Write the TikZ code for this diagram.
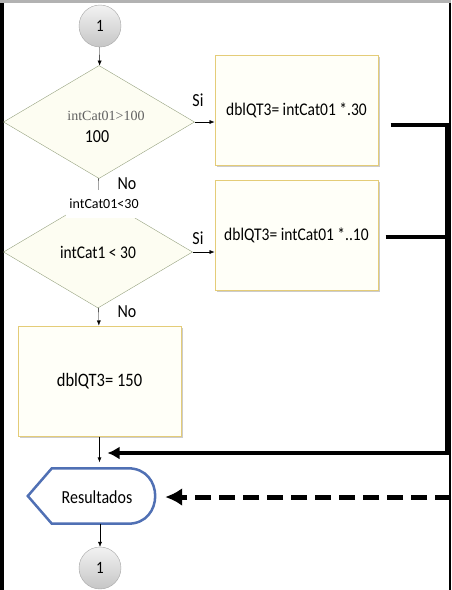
\documentclass[tikz,border=0pt]{standalone}
\usepackage{fontspec}
\setmainfont{Carlito}
\newfontfamily\tnr{Liberation Serif}
\usetikzlibrary{shapes.geometric,arrows.meta,shadows,positioning}
\definecolor{decborder}{RGB}{150,162,128}
\definecolor{decfill}{RGB}{253,253,242}
\definecolor{procborder}{RGB}{228,204,120}
\definecolor{procfill}{RGB}{255,255,248}
\definecolor{dispborder}{RGB}{80,112,180}
\newcommand{\tall}[1]{\scalebox{1}[1.15]{#1}}

\begin{document}
\begin{tikzpicture}[x=1pt,y=-1pt]
    \tikzstyle{conn}=[circle, minimum size=42pt, inner sep=0pt, draw=gray!70, top color=gray!10, bottom color=gray!45, font=\fontsize{15}{18}\selectfont]
    \tikzstyle{cond}=[diamond, draw=decborder, fill=decfill, inner sep=0pt, minimum width=191pt, minimum height=113pt, font=\fontsize{15.5}{18}\selectfont]
    \tikzstyle{proc}=[rectangle, draw=procborder, fill=procfill, line width=1pt, minimum width=163pt, minimum height=110pt, drop shadow={shadow xshift=2pt, shadow yshift=-2pt, opacity=0.4, fill=gray}, font=\fontsize{15.5}{18}\selectfont]
    \tikzstyle{lbl}=[font=\fontsize{16}{18}\selectfont]
    \tikzstyle{flow}=[-{Latex[length=5pt,width=4pt]}]
    \tikzstyle{bus}=[line width=4pt, line join=miter]
    \useasboundingbox (0,0) rectangle (451,590);
    % frame
    \fill[black] (0,0) rectangle (4,590);
    \fill[black] (449,0) rectangle (451,590);
    \fill[gray!60] (0,0) rectangle (451,3);
    % nodes
    \node[conn] (top) at (100,26) {\tall{1}};
    \node[cond] (c1) at (99,122) {};
    \node[font=\tnr\fontsize{14}{16}\selectfont, text=gray!75!black] (c1a) at (106,116) {intCat01>100};
    \node[font=\fontsize{16}{18}\selectfont] (c1b) at (97,137) {\tall{100}};
    \node[proc] (p1) at (296.5,110) {\tall{dblQT3= intCat01 *.30}};
    \node[cond, minimum width=189pt, minimum height=112pt] (c2) at (98,252) {\tall{intCat1 < 30}};
    \node[proc] (p2) at (296.5,235) {\tall{dblQT3= intCat01 *..10}};
    \node[proc, font=\fontsize{16.5}{18}\selectfont] (p3) at (99.5,381) {\tall{dblQT3= 150}};
    \node[minimum width=127pt, minimum height=55pt, inner sep=0pt] (res) at (91.5,496) {};
    \node[conn] (bot) at (100,568) {\tall{1}};
    \coordinate (merge) at (447,453);
    \coordinate (offpage) at (451,497);
    % Resultados
    \draw[dispborder, line width=2.5pt, fill=white]
        ([xshift=24pt]res.north west) -- (res.west) -- ([xshift=24pt]res.south west)
        -- ([xshift=-27pt]res.south east)
        .. controls ([xshift=9pt]res.south east) and ([xshift=9pt]res.north east) .. ([xshift=-27pt]res.north east)
        -- cycle;
    \node[font=\fontsize{16}{18}\selectfont] (restxt) at (97,497) {\tall{Resultados}};
    % connectors
    \draw[flow] (top) -- (c1);
    \draw[flow] (c1.east) -- (c1.east -| p1.west);
    \draw[flow] (c1) -- (c2);
    \node[fill=white, minimum height=28pt, minimum width=76pt, inner sep=0pt, font=\fontsize{14}{16}\selectfont] (c2lab) at (104,204) {intCat01<30};
    \draw[flow] (c2.east) -- (c2.east -| p2.west);
    \draw[flow] (c2) -- (p3);
    \draw[flow, shorten >=6pt] (p3) -- (p3 |- res.north);
    \draw[flow] (bot |- res.south) -- (bot);
    \node[lbl] (si1) at (198,100) {\tall{Si}};
    \node[lbl] (no1) at (127,184) {\tall{No}};
    \node[lbl] (si2) at (198,238) {\tall{Si}};
    \node[lbl] (no2) at (127,312) {\tall{No}};
    % back lines
    \draw[bus, -{Latex[length=12pt,width=13pt]}] ([xshift=12pt,yshift=-15pt]p1.east) -| (merge) -- ([xshift=8pt]p3.south |- merge);
    \draw[bus] ([xshift=7pt,yshift=-2pt]p2.east) -| (merge);
    \draw[line width=5pt, dash pattern=on 16pt off 8pt, -{Latex[length=17pt,width=18pt]}, shorten >=10pt] (offpage) -- (res.east |- offpage);
\end{tikzpicture}
\end{document}
